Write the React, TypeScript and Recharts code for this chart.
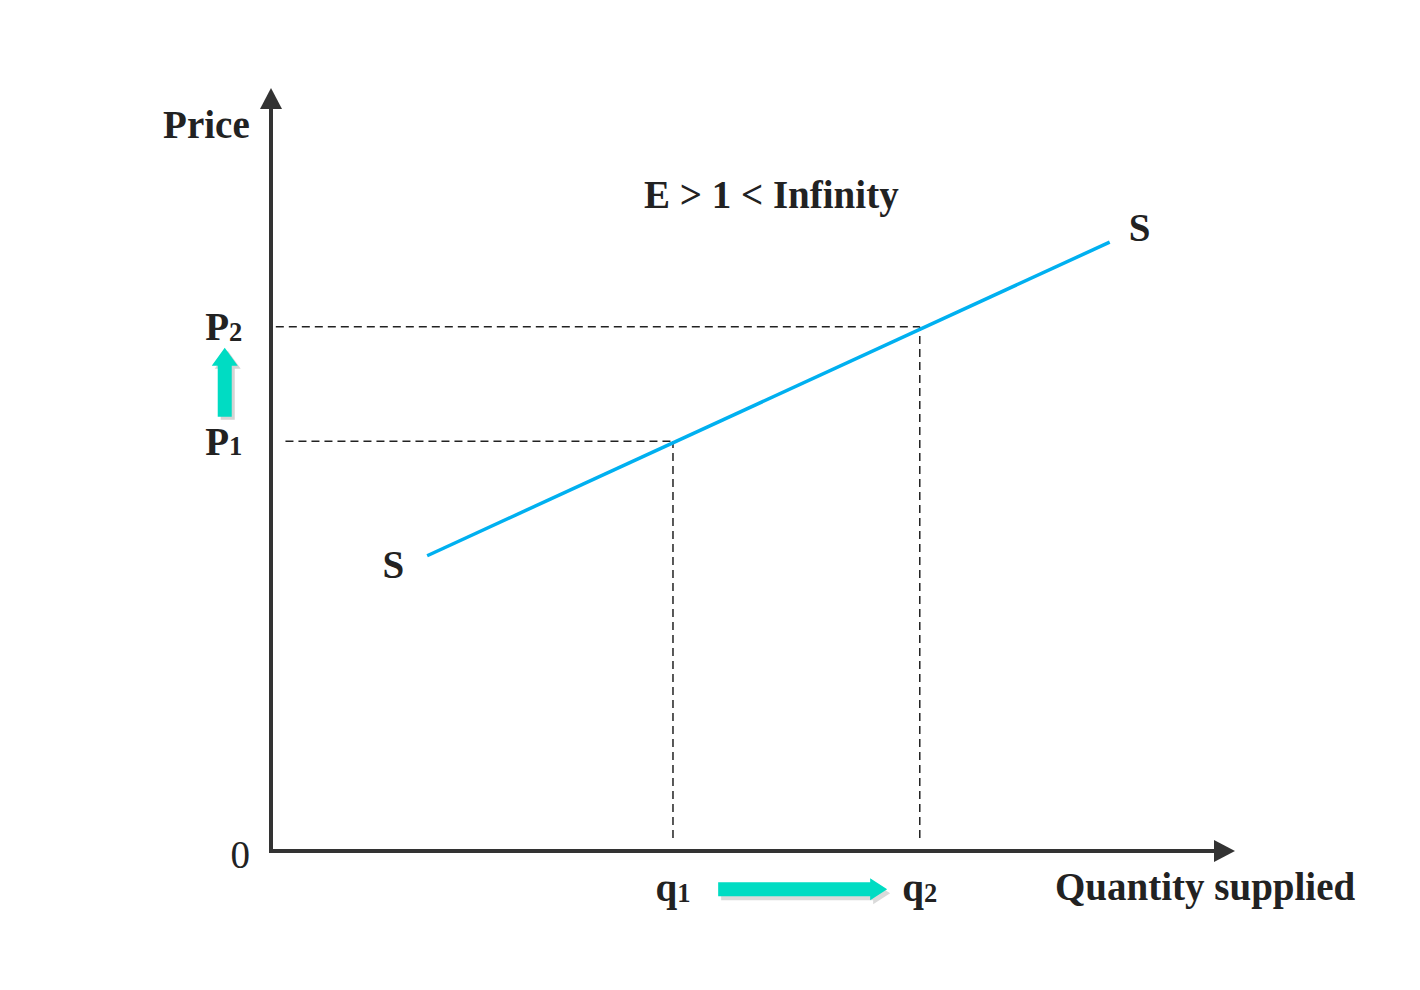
import { ComposedChart, Line, XAxis, YAxis, ReferenceLine, ReferenceDot } from "recharts";

// supply curve S-S (quantity, price)
const supplyQty = [1.62, 8.7];
const supplyPrice = [3.87, 7.98];

// price / quantity levels
const priceLevels = { P1: 5.37, P2: 6.87 };
const qtyLevels = { q1: 4.17, q2: 6.73 };

const supplyData = supplyQty.map((q, i) => ({ q, p: supplyPrice[i] }));

const FONT = "'Liberation Serif', 'DejaVu Serif', serif";
const INK = "#222";
const AXIS = "#333";
const TEAL = "#00dcc3";

function Label({ cx, cy, text, sub, size = 39, weight = 700, anchor = "middle" }: any) {
  return (
    <text x={cx} y={cy} textAnchor={anchor} dominantBaseline="central" fontFamily={FONT} fontSize={size} fontWeight={weight} fill={INK}>
      {text}
      {sub && (
        <tspan fontSize={size * 0.68} dy={5}>
          {sub}
        </tspan>
      )}
    </text>
  );
}

function UpArrowHead({ cx, cy }: any) {
  return <path d={`M${cx},${cy} L${cx + 11},${cy + 21} L${cx - 11},${cy + 21} Z`} fill={AXIS} />;
}

function RightArrowHead({ cx, cy }: any) {
  return <path d={`M${cx},${cy} L${cx - 21},${cy - 11} L${cx - 21},${cy + 11} Z`} fill={AXIS} />;
}

function UpBlock({ cx, cy }: any) {
  const d = (ox: number, oy: number) =>
    `M${cx + ox},${cy - 34 + oy} L${cx + 13 + ox},${cy - 16 + oy} L${cx + 7 + ox},${cy - 16 + oy} L${cx + 7 + ox},${cy + 35 + oy} L${cx - 7 + ox},${cy + 35 + oy} L${cx - 7 + ox},${cy - 16 + oy} L${cx - 13 + ox},${cy - 16 + oy} Z`;
  return (
    <g>
      <path d={d(3, 3)} fill="#d4d4d4" />
      <path d={d(0, 0)} fill={TEAL} />
    </g>
  );
}

function RightBlock({ cx, cy }: any) {
  const d = (ox: number, oy: number) =>
    `M${cx + 85 + ox},${cy + oy} L${cx + 68 + ox},${cy - 11 + oy} L${cx + 68 + ox},${cy - 7 + oy} L${cx - 84 + ox},${cy - 7 + oy} L${cx - 84 + ox},${cy + 7 + oy} L${cx + 68 + ox},${cy + 7 + oy} L${cx + 68 + ox},${cy + 11 + oy} Z`;
  return (
    <g>
      <path d={d(3, 4)} fill="#dadada" />
      <path d={d(0, 0)} fill={TEAL} />
    </g>
  );
}

export default function App() {
  const dash = { stroke: INK, strokeWidth: 1.5, strokeDasharray: "8 5" };
  return (
    <ComposedChart width={1404} height={974} data={supplyData} margin={{ top: 80, right: 177, bottom: 131, left: 263 }}>
      <XAxis dataKey="q" type="number" domain={[0, 10]} hide />
      <YAxis type="number" domain={[0, 10]} hide />

      {/* dashed guides */}
      <ReferenceLine segment={[{ x: 0.15, y: priceLevels.P1 }, { x: qtyLevels.q1, y: priceLevels.P1 }]} {...dash} ifOverflow="visible" />
      <ReferenceLine segment={[{ x: 0.05, y: priceLevels.P2 }, { x: qtyLevels.q2, y: priceLevels.P2 }]} {...dash} ifOverflow="visible" />
      <ReferenceLine segment={[{ x: qtyLevels.q1, y: 0.17 }, { x: qtyLevels.q1, y: priceLevels.P1 }]} {...dash} ifOverflow="visible" />
      <ReferenceLine segment={[{ x: qtyLevels.q2, y: 0.17 }, { x: qtyLevels.q2, y: priceLevels.P2 }]} {...dash} ifOverflow="visible" />

      <Line dataKey="p" stroke="#00b0f0" strokeWidth={3.5} dot={false} activeDot={false} isAnimationActive={false} />

      {/* axes */}
      <ReferenceLine segment={[{ x: 0, y: -0.026 }, { x: 0, y: 9.75 }]} stroke={AXIS} strokeWidth={4} ifOverflow="visible" />
      <ReferenceLine segment={[{ x: 0, y: 0 }, { x: 9.8, y: 0 }]} stroke={AXIS} strokeWidth={4} ifOverflow="visible" />
      <ReferenceDot x={0} y={10} ifOverflow="visible" shape={(p: any) => <UpArrowHead {...p} />} />
      <ReferenceDot x={10} y={0} ifOverflow="visible" shape={(p: any) => <RightArrowHead {...p} />} />

      {/* labels */}
      <ReferenceDot x={-0.67} y={9.52} ifOverflow="visible" shape={(p: any) => <Label {...p} text="Price" />} />
      <ReferenceDot x={-0.49} y={priceLevels.P2} ifOverflow="visible" shape={(p: any) => <Label {...p} text="P" sub="2" />} />
      <ReferenceDot x={-0.49} y={priceLevels.P1} ifOverflow="visible" shape={(p: any) => <Label {...p} text="P" sub="1" />} />
      <ReferenceDot x={-0.32} y={-0.05} ifOverflow="visible" shape={(p: any) => <Label {...p} text="0" weight={400} />} />
      <ReferenceDot x={qtyLevels.q1} y={-0.48} ifOverflow="visible" shape={(p: any) => <Label {...p} text="q" sub="1" />} />
      <ReferenceDot x={qtyLevels.q2} y={-0.48} ifOverflow="visible" shape={(p: any) => <Label {...p} text="q" sub="2" />} />
      <ReferenceDot x={9.69} y={-0.47} ifOverflow="visible" shape={(p: any) => <Label {...p} text="Quantity supplied" />} />
      <ReferenceDot x={5.19} y={8.61} ifOverflow="visible" shape={(p: any) => <Label {...p} text="E > 1 < Infinity" />} />
      <ReferenceDot x={9.01} y={8.17} ifOverflow="visible" shape={(p: any) => <Label {...p} text="S" />} />
      <ReferenceDot x={1.27} y={3.75} ifOverflow="visible" shape={(p: any) => <Label {...p} text="S" />} />

      {/* movement arrows */}
      <ReferenceDot x={-0.48} y={6.15} ifOverflow="visible" shape={(p: any) => <UpBlock {...p} />} />
      <ReferenceDot x={5.51} y={-0.5} ifOverflow="visible" shape={(p: any) => <RightBlock {...p} />} />
    </ComposedChart>
  );
}
